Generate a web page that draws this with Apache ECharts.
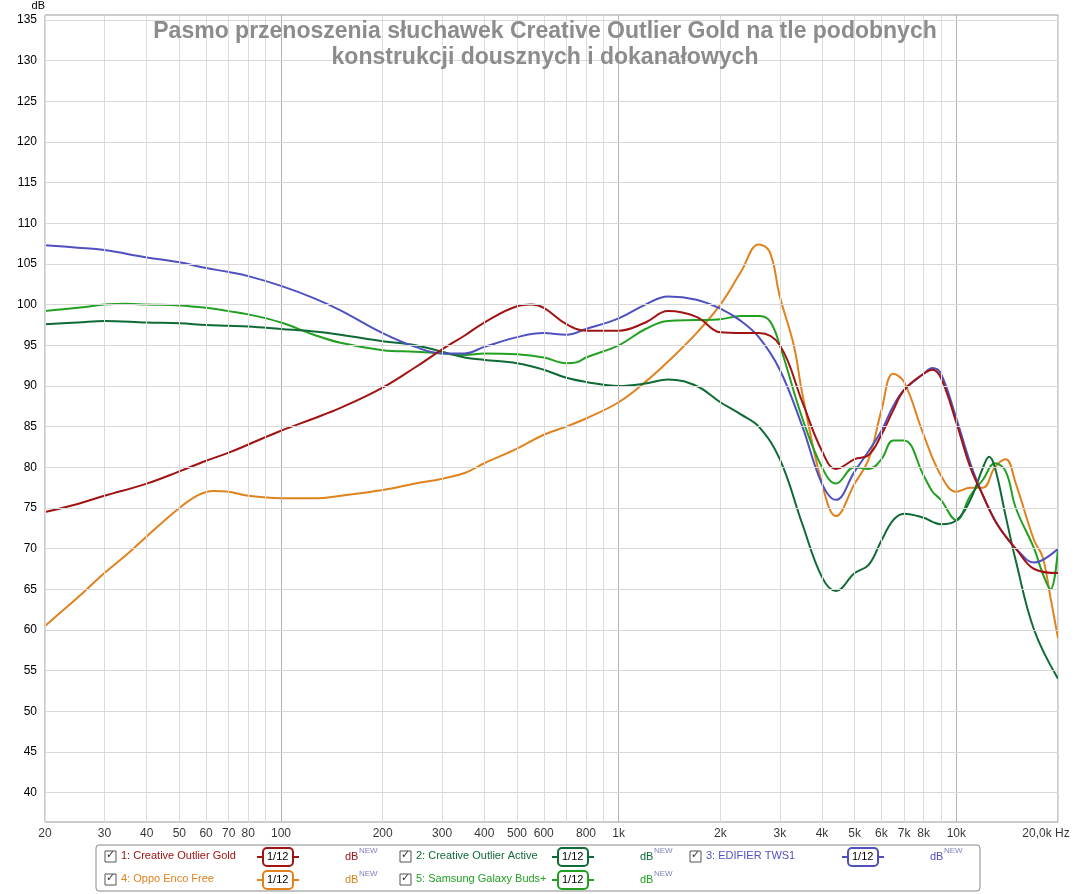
<!DOCTYPE html>
<html><head><meta charset="utf-8">
<script src="https://cdn.jsdelivr.net/npm/echarts@6/dist/echarts.min.js"></script>
<style>html,body{margin:0;padding:0;background:#fff}#c{width:1080px;height:894px}</style>
</head><body><div id="c"></div>
<script>
const titleLines = ['Pasmo przenoszenia słuchawek Creative Outlier Gold na tle podobnych','konstrukcji dousznych i dokanałowych'];
const seriesNames = ['1: Creative Outlier Gold','2: Creative Outlier Active','3: EDIFIER TWS1','4: Oppo Enco Free','5: Samsung Galaxy Buds+'];
const seriesColors = ['#a01414','#0f6a35','#5050c0','#e0821e','#22a022'];
const xTickValues = [20,30,40,50,60,70,80,100,200,300,400,500,600,800,1000,2000,3000,4000,5000,6000,7000,8000,10000,20000];
const xTickLabels = ['20','30','40','50','60','70','80','100','200','300','400','500','600','800','1k','2k','3k','4k','5k','6k','7k','8k','10k','20,0k Hz'];
const gridFreqs = [20,30,40,50,60,70,80,90,100,200,300,400,500,600,700,800,900,1000,2000,3000,4000,5000,6000,7000,8000,9000,10000,20000];
const yTickValues = [40,45,50,55,60,65,70,75,80,85,90,95,100,105,110,115,120,125,130,135];

const gold = [[20,74.5],[25,75.5],[30,76.5],[40,78],[50,79.5],[60,80.8],[70,81.8],[80,82.8],[100,84.5],[125,86],[150,87.3],[200,89.8],[250,92.3],[300,94.5],[350,96.2],[400,97.8],[500,99.8],[550,100],[600,99.6],[700,97.6],[800,96.8],[1000,96.8],[1200,97.8],[1400,99.2],[1700,98.5],[2000,96.6],[2300,96.5],[2600,96.5],[3000,95],[3500,88],[4000,82],[4400,79.8],[5000,81],[5500,81.5],[6000,84],[6500,87],[7000,89.5],[8000,91.5],[8500,92],[9000,91],[10000,85.5],[11000,80],[12000,76.5],[13000,73.5],[14000,71.5],[15000,70],[17000,67.5],[20000,67]];
const active = [[20,97.6],[25,97.8],[30,98],[40,97.8],[50,97.7],[60,97.5],[70,97.4],[80,97.3],[100,97],[125,96.7],[150,96.3],[200,95.5],[250,95],[300,94.2],[350,93.5],[400,93.2],[500,92.8],[600,92],[700,91],[800,90.5],[1000,90],[1200,90.3],[1400,90.8],[1700,90],[2000,88],[2300,86.5],[2600,85],[3000,81],[3500,73],[4000,66.5],[4400,64.8],[5000,67],[5500,68],[6000,71],[6500,73.5],[7000,74.3],[8000,73.8],[8500,73.3],[9000,73],[10000,73.5],[11000,76],[12000,80],[12500,81.3],[13000,80],[14000,74],[15000,68.5],[17000,60],[20000,54]];
const edifier = [[20,107.3],[25,107],[30,106.7],[40,105.8],[50,105.2],[60,104.5],[70,104],[80,103.5],[100,102.3],[125,100.8],[150,99.3],[200,96.5],[250,94.8],[300,94],[350,94],[400,94.8],[500,96],[600,96.5],[700,96.3],[800,97],[1000,98.3],[1200,100],[1400,101],[1700,100.6],[2000,99.5],[2300,98],[2600,96],[3000,92],[3500,85],[4000,78],[4400,76],[5000,79.5],[5500,82],[6000,84.5],[6500,87.5],[7000,89.5],[8000,91.5],[8500,92.2],[9000,91.5],[10000,86],[11000,80.5],[12000,76.5],[13000,73.5],[14000,71.5],[15000,70],[17000,68.3],[20000,70]];
const oppo = [[20,60.5],[22,62],[25,64],[30,67],[35,69.3],[40,71.5],[50,75],[57,76.6],[63,77.1],[70,77],[80,76.5],[100,76.2],[125,76.2],[150,76.5],[200,77.2],[250,78],[300,78.6],[350,79.3],[400,80.5],[500,82.3],[600,84],[700,85],[800,86],[1000,88],[1200,90.5],[1400,93],[1700,96.5],[2000,100],[2300,104],[2600,107.4],[2800,106.5],[3000,101],[3300,95],[3500,89],[4000,78],[4400,74],[5000,78],[5500,81],[6000,87],[6500,91.5],[7000,90.5],[8000,84],[9000,79],[10000,77],[11000,77.5],[12000,77.5],[13000,80],[14000,81],[15000,78],[17000,71],[18000,69],[19000,64],[20000,59]];
const samsung = [[20,99.2],[25,99.6],[30,100],[35,100.1],[40,100],[50,99.9],[60,99.6],[70,99.2],[80,98.8],[100,97.8],[125,96.3],[150,95.3],[200,94.4],[250,94.2],[300,94],[350,93.8],[400,94],[500,93.9],[600,93.5],[700,92.8],[750,92.9],[800,93.5],[1000,95],[1200,97],[1400,98],[1700,98.1],[2000,98.2],[2300,98.6],[2600,98.6],[2800,98],[3000,95],[3500,86],[4000,80],[4400,78],[5000,80],[5500,79.8],[6000,81],[6500,83.3],[7000,83.3],[8000,79],[8500,77],[9000,76],[10000,73.5],[11000,76.5],[12000,78.5],[13000,80.5],[14000,79.5],[15000,75],[17000,70],[18000,67],[19000,65],[20000,70]];
const allData = [gold, active, edifier, oppo, samsung];
const drawOrder = [3,4,1,2,0];

const YMIN = 36.4, YMAX = 135.6;
const chart = echarts.init(document.getElementById('c'));
const isDecade = f => [100,1000,10000].includes(f);
const series = drawOrder.map(i => ({
  name: seriesNames[i], type: 'line', data: allData[i], smooth: 0.4, showSymbol: false,
  lineStyle: {color: seriesColors[i], width: 2}, itemStyle:{color: seriesColors[i]}, z: 3
}));
series.push({
  type: 'line', data: [], silent: true,
  markLine: {silent: true, symbol: 'none', label:{show:false},
    data: gridFreqs.map(f => ({xAxis: f, lineStyle: {color: isDecade(f) ? '#b4b4b4' : '#dcdcdc', width: 1, type: 'solid'}}))}
});
series.push({
  type: 'scatter', symbolSize: 0, silent: true,
  data: xTickValues.map((f, k) => ({value: [f, YMIN], label: {formatter: xTickLabels[k], offset: k === xTickValues.length-1 ? [-12,0] : [0,0]}})),
  label: {show: true, position: 'bottom', distance: 6, color: '#000', fontSize: 12, fontFamily: 'Liberation Sans'}
});
const leg = [];
const legPos = [[105,857],[400,857],[690,857],[105,880],[400,880]];
seriesNames.forEach((n, i) => {
  const [x, y] = legPos[i];
  leg.push({type:'rect', shape:{x:x, y:y-6, width:11, height:11}, style:{fill:'#fff', stroke:'#555', lineWidth:1}});
  leg.push({type:'text', style:{text:'✓', x:x+1, y:y-7, fill:'#333', font:'11px DejaVu Sans'}});
  leg.push({type:'text', style:{text:n, x:x+16, y:y-7, fill:seriesColors[i], font:'11px Liberation Sans'}});
  const bx = x + 158;
  leg.push({type:'line', shape:{x1:bx-6,y1:y,x2:bx+36,y2:y}, style:{stroke:seriesColors[i], lineWidth:2}});
  leg.push({type:'rect', shape:{x:bx, y:y-9, width:30, height:18, r:4}, style:{fill:'#fff', stroke:seriesColors[i], lineWidth:2}});
  leg.push({type:'text', style:{text:'1/12', x:bx+4, y:y-6, fill:'#000', font:'11px Liberation Sans'}});
  leg.push({type:'text', style:{text:'dB', x:x+240, y:y-6, fill:seriesColors[i], font:'11px Liberation Sans'}});
  leg.push({type:'text', style:{text:'NEW', x:x+254, y:y-10, fill:'#8080c0', font:'8px Liberation Sans'}});
});
leg.push({type:'rect', shape:{x:96, y:845, width:884, height:46, r:3}, style:{fill:'none', stroke:'#888', lineWidth:1}, z:-1});
chart.setOption({
  backgroundColor: '#fff',
  animation: false,
  title: {text: titleLines.join('\n'), left: 540, top: 14, textAlign: 'center',
    textStyle: {color: '#8c8c8c', fontSize: 23, fontWeight: 'bold', fontFamily: 'Liberation Sans', lineHeight: 26}},
  grid: {left: 45, right: 22, top: 15, bottom: 72, show: true, borderColor: '#999', borderWidth: 1},
  xAxis: {type: 'log', logBase: 10, min: 20, max: 20000, axisLabel:{show:false}, axisTick:{show:false}, splitLine:{show:false}, axisLine:{show:false}},
  yAxis: {type: 'value', min: YMIN, max: YMAX, name: 'dB', nameLocation: 'end', nameGap: 4,
    nameTextStyle:{color:'#000', fontSize: 11, align:'right', padding:[0,0,0,0]},
    axisLine:{show:false}, axisTick:{show:false},
    axisLabel:{customValues: yTickValues, color:'#000', fontSize: 12, fontFamily:'Liberation Sans', margin: 8},
    splitLine:{show:false}},
  series: series.concat([{
    type:'line', data:[], silent:true,
    markLine:{silent:true, symbol:'none', label:{show:false},
      data: yTickValues.map(v => ({yAxis: v, lineStyle:{color: '#d8d8d8', width:1, type:'solid'}}))}
  }]),
  graphic: leg
});
</script></body></html>
